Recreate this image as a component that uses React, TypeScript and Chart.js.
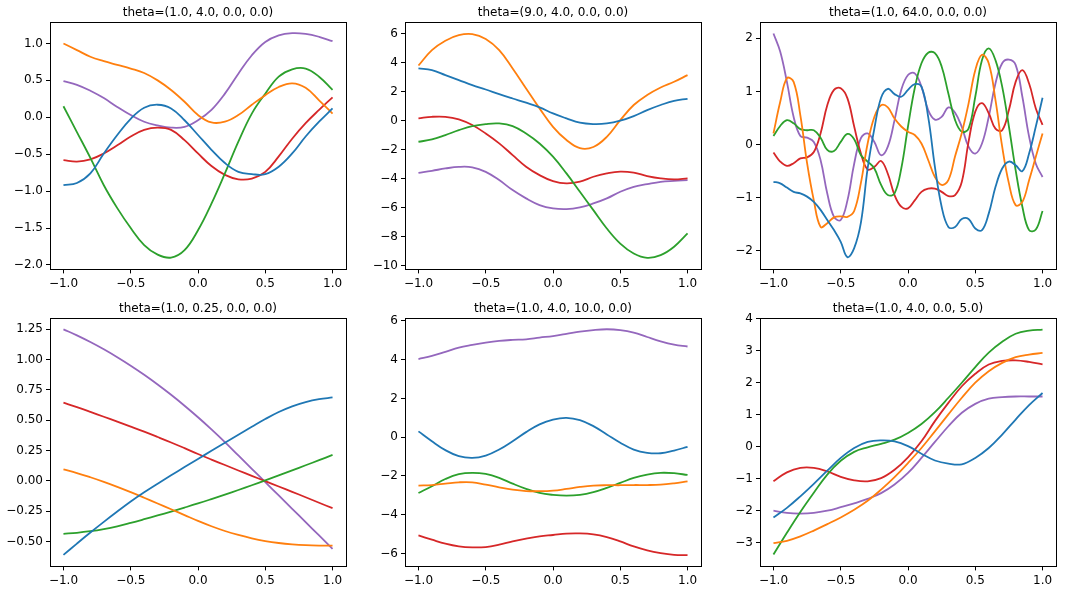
import React, { useEffect, useRef } from 'react';
import { Chart, registerables } from 'chart.js';

Chart.register(...registerables);

// ---------- data ----------
const COLORS = ['#1f77b4', '#ff7f0e', '#2ca02c', '#d62728', '#9467bd'];

const X_COARSE = [-1.0, -0.9, -0.8, -0.7, -0.6, -0.5, -0.4, -0.3, -0.2, -0.1, 0.0, 0.1, 0.2, 0.3, 0.4, 0.5, 0.6, 0.7, 0.8, 0.9, 1.0];
const X_FINE = [
  -1.0, -0.95, -0.9, -0.85, -0.8, -0.75, -0.7, -0.65, -0.6, -0.55, -0.5, -0.45, -0.4, -0.35, -0.3, -0.25, -0.2, -0.15, -0.1, -0.05,
  0.0, 0.05, 0.1, 0.15, 0.2, 0.25, 0.3, 0.35, 0.4, 0.45, 0.5, 0.55, 0.6, 0.65, 0.7, 0.75, 0.8, 0.85, 0.9, 0.95, 1.0,
];
const X_TICKS = [-1.0, -0.5, 0.0, 0.5, 1.0];

// theta=(1.0, 4.0, 0.0, 0.0)
const P1_BLUE = [-0.92, -0.89, -0.76, -0.49, -0.24, -0.02, 0.13, 0.17, 0.12, -0.04, -0.24, -0.44, -0.62, -0.74, -0.77, -0.77, -0.67, -0.49, -0.26, -0.06, 0.12];
const P1_ORANGE = [1.0, 0.91, 0.82, 0.76, 0.71, 0.66, 0.6, 0.5, 0.37, 0.21, 0.03, -0.07, -0.06, 0.03, 0.17, 0.3, 0.41, 0.46, 0.4, 0.23, 0.05];
const P1_GREEN = [0.15, -0.2, -0.55, -0.92, -1.23, -1.5, -1.73, -1.86, -1.9, -1.8, -1.53, -1.17, -0.76, -0.33, 0.05, 0.32, 0.55, 0.65, 0.66, 0.55, 0.37];
const P1_RED = [-0.58, -0.6, -0.57, -0.49, -0.38, -0.26, -0.17, -0.14, -0.17, -0.31, -0.49, -0.66, -0.78, -0.84, -0.83, -0.74, -0.53, -0.29, -0.08, 0.1, 0.27];
const P1_PURPLE = [0.49, 0.44, 0.36, 0.26, 0.14, 0.03, -0.06, -0.11, -0.14, -0.13, -0.04, 0.1, 0.32, 0.59, 0.84, 1.02, 1.11, 1.14, 1.13, 1.09, 1.03];
const P1_Y_TICKS = [-2.0, -1.5, -1.0, -0.5, 0.0, 0.5, 1.0];

// theta=(9.0, 4.0, 0.0, 0.0)
const P2_BLUE = [3.59, 3.47, 3.13, 2.79, 2.44, 2.14, 1.82, 1.52, 1.23, 0.91, 0.49, 0.15, -0.15, -0.24, -0.2, -0.01, 0.31, 0.72, 1.07, 1.36, 1.5];
const P2_ORANGE = [3.79, 4.85, 5.5, 5.88, 5.95, 5.62, 4.85, 3.59, 2.21, 0.84, -0.43, -1.34, -1.9, -1.82, -1.12, 0.03, 1.07, 1.76, 2.28, 2.67, 3.13];
const P2_GREEN = [-1.46, -1.3, -1.0, -0.66, -0.38, -0.24, -0.2, -0.38, -0.89, -1.58, -2.49, -3.64, -4.9, -6.17, -7.43, -8.47, -9.15, -9.45, -9.27, -8.69, -7.77];
const P2_RED = [0.15, 0.26, 0.26, 0.08, -0.31, -0.89, -1.57, -2.38, -3.18, -3.76, -4.17, -4.33, -4.21, -3.87, -3.64, -3.52, -3.59, -3.82, -3.98, -4.05, -3.98];
const P2_PURPLE = [-3.6, -3.46, -3.3, -3.19, -3.22, -3.53, -4.1, -4.79, -5.36, -5.82, -6.05, -6.1, -5.98, -5.71, -5.36, -4.9, -4.56, -4.38, -4.22, -4.15, -4.1];
const P2_Y_TICKS = [-10, -8, -6, -4, -2, 0, 2, 4, 6];

// theta=(1.0, 64.0, 0.0, 0.0)
const P3_BLUE = [
  -0.7, -0.73, -0.81, -0.89, -0.92, -0.98, -1.08, -1.23, -1.42, -1.61, -1.83, -2.12, -1.95, -1.47, -0.45, 0.3, 0.88, 1.05, 0.95, 0.9,
  1.03, 1.14, 1.09, 0.52, -0.42, -1.17, -1.55, -1.55, -1.4, -1.4, -1.58, -1.61, -1.3, -0.8, -0.45, -0.32, -0.39, -0.5, -0.17, 0.34, 0.88,
];
const P3_ORANGE = [
  0.21, 0.8, 1.25, 1.18, 0.55, -0.35, -1.05, -1.55, -1.48, -1.37, -1.35, -1.36, -1.25, -0.72, 0.02, 0.52, 0.74, 0.7, 0.49, 0.34,
  0.24, 0.18, 0.02, -0.29, -0.61, -0.76, -0.67, -0.22, 0.22, 0.77, 1.4, 1.69, 1.53, 0.84, -0.04, -0.73, -1.14, -1.08, -0.67, -0.23, 0.21,
];
const P3_GREEN = [
  0.16, 0.35, 0.46, 0.4, 0.29, 0.27, 0.27, 0.13, -0.1, -0.12, 0.05, 0.2, 0.1, -0.2, -0.32, -0.45, -0.76, -0.95, -0.92, -0.45,
  0.34, 1.06, 1.53, 1.73, 1.72, 1.47, 0.96, 0.46, 0.24, 0.3, 0.9, 1.59, 1.81, 1.59, 1.09, 0.34, -0.48, -1.17, -1.61, -1.6, -1.25,
];
const P3_RED = [
  -0.15, -0.32, -0.4, -0.35, -0.26, -0.24, -0.14, 0.21, 0.74, 1.03, 1.06, 0.87, 0.34, -0.17, -0.47, -0.42, -0.31, -0.55, -0.95, -1.17,
  -1.2, -1.05, -0.89, -0.83, -0.83, -0.89, -0.97, -0.95, -0.7, 0.05, 0.62, 0.78, 0.59, 0.3, 0.27, 0.65, 1.18, 1.4, 1.15, 0.68, 0.37,
];
const P3_PURPLE = [
  2.09, 1.75, 1.18, 0.52, 0.16, 0.13, 0.05, -0.29, -0.92, -1.36, -1.42, -1.05, -0.36, 0.12, 0.21, 0.05, -0.2, -0.04, 0.46, 1.03,
  1.31, 1.34, 1.09, 0.65, 0.47, 0.52, 0.7, 0.6, 0.33, -0.04, -0.17, 0.02, 0.52, 1.15, 1.53, 1.6, 1.5, 0.9, 0.15, -0.36, -0.61,
];
const P3_Y_TICKS = [-2, -1, 0, 1, 2];

// theta=(1.0, 0.25, 0.0, 0.0)
const P4_BLUE = [-0.61, -0.517, -0.426, -0.338, -0.253, -0.17, -0.094, -0.023, 0.046, 0.114, 0.181, 0.248, 0.315, 0.381, 0.446, 0.51, 0.568, 0.615, 0.65, 0.674, 0.688];
const P4_ORANGE = [0.095, 0.065, 0.03, -0.008, -0.049, -0.093, -0.139, -0.186, -0.234, -0.282, -0.33, -0.374, -0.413, -0.446, -0.474, -0.496, -0.512, -0.523, -0.53, -0.533, -0.533];
const P4_GREEN = [-0.436, -0.428, -0.415, -0.397, -0.374, -0.346, -0.316, -0.285, -0.253, -0.22, -0.186, -0.15, -0.113, -0.075, -0.036, 0.004, 0.045, 0.087, 0.129, 0.171, 0.214];
const P4_RED = [0.645, 0.608, 0.569, 0.529, 0.489, 0.448, 0.406, 0.362, 0.317, 0.27, 0.222, 0.176, 0.131, 0.086, 0.042, -0.002, -0.046, -0.09, -0.135, -0.18, -0.225];
const P4_PURPLE = [1.25, 1.2, 1.145, 1.085, 1.02, 0.95, 0.875, 0.795, 0.71, 0.62, 0.525, 0.425, 0.32, 0.21, 0.1, -0.01, -0.12, -0.23, -0.34, -0.45, -0.56];
const P4_Y_TICKS = [-0.5, -0.25, 0.0, 0.25, 0.5, 0.75, 1.0, 1.25];

// theta=(1.0, 4.0, 10.0, 0.0)
const P5_BLUE = [0.3, -0.21, -0.67, -0.98, -1.07, -0.95, -0.64, -0.21, 0.26, 0.66, 0.91, 1.0, 0.88, 0.57, 0.14, -0.29, -0.64, -0.81, -0.83, -0.69, -0.5];
const P5_ORANGE = [-2.5, -2.47, -2.4, -2.33, -2.33, -2.45, -2.59, -2.71, -2.78, -2.79, -2.76, -2.67, -2.57, -2.5, -2.48, -2.48, -2.47, -2.47, -2.45, -2.38, -2.28];
const P5_GREEN = [-2.88, -2.53, -2.16, -1.91, -1.84, -1.9, -2.1, -2.4, -2.67, -2.88, -2.98, -3.02, -2.98, -2.84, -2.62, -2.36, -2.1, -1.93, -1.84, -1.86, -1.95];
const P5_RED = [-5.07, -5.29, -5.5, -5.64, -5.69, -5.67, -5.55, -5.38, -5.24, -5.12, -5.05, -4.98, -4.97, -5.02, -5.16, -5.38, -5.64, -5.84, -5.98, -6.07, -6.09];
const P5_PURPLE = [4.03, 4.19, 4.4, 4.62, 4.76, 4.88, 4.97, 5.02, 5.05, 5.14, 5.22, 5.33, 5.45, 5.53, 5.57, 5.53, 5.4, 5.17, 4.95, 4.78, 4.68];
const P5_Y_TICKS = [-6, -4, -2, 0, 2, 4, 6];

// theta=(1.0, 4.0, 0.0, 5.0)
const P6_BLUE = [-2.22, -1.92, -1.56, -1.17, -0.76, -0.36, -0.05, 0.14, 0.19, 0.16, 0.01, -0.23, -0.44, -0.54, -0.56, -0.36, -0.05, 0.37, 0.84, 1.29, 1.67];
const P6_ORANGE = [-3.02, -2.95, -2.81, -2.63, -2.43, -2.22, -1.98, -1.7, -1.35, -0.96, -0.52, -0.05, 0.47, 1.0, 1.52, 1.99, 2.35, 2.61, 2.79, 2.87, 2.92];
const P6_GREEN = [-3.38, -2.7, -2.05, -1.45, -0.88, -0.45, -0.17, -0.03, 0.08, 0.21, 0.42, 0.7, 1.07, 1.52, 1.99, 2.48, 2.93, 3.27, 3.52, 3.62, 3.65];
const P6_RED = [-1.09, -0.81, -0.67, -0.67, -0.78, -0.95, -1.06, -1.09, -0.99, -0.73, -0.34, 0.16, 0.79, 1.36, 1.88, 2.27, 2.56, 2.67, 2.69, 2.64, 2.56];
const P6_PURPLE = [-2.01, -2.08, -2.1, -2.08, -2.01, -1.9, -1.78, -1.64, -1.46, -1.19, -0.83, -0.36, 0.14, 0.63, 1.05, 1.33, 1.49, 1.54, 1.56, 1.56, 1.56];
const P6_Y_TICKS = [-3, -2, -1, 0, 1, 2, 3, 4];

// ---------- layout ----------
const FONT = { family: '"DejaVu Sans", sans-serif', size: 12, weight: 'normal' as const };
const CANVAS_W = 355;

type PanelCfg = {
  title: string;
  xs: number[];
  series: number[][];
  yMin: number;
  yMax: number;
  yTicks: number[];
  yDecimals: number;
  left: number;
  top: number;
  height: number;
};

const PANELS: PanelCfg[] = [
  { title: 'theta=(1.0, 4.0, 0.0, 0.0)', xs: X_COARSE, series: [P1_BLUE, P1_ORANGE, P1_GREEN, P1_RED, P1_PURPLE], yMin: -2.06, yMax: 1.285, yTicks: P1_Y_TICKS, yDecimals: 1, left: 0, top: 0, height: 296 },
  { title: 'theta=(9.0, 4.0, 0.0, 0.0)', xs: X_COARSE, series: [P2_BLUE, P2_ORANGE, P2_GREEN, P2_RED, P2_PURPLE], yMin: -10.25, yMax: 6.76, yTicks: P2_Y_TICKS, yDecimals: 0, left: 355, top: 0, height: 296 },
  { title: 'theta=(1.0, 64.0, 0.0, 0.0)', xs: X_FINE, series: [P3_BLUE, P3_ORANGE, P3_GREEN, P3_RED, P3_PURPLE], yMin: -2.35, yMax: 2.3, yTicks: P3_Y_TICKS, yDecimals: 0, left: 710, top: 0, height: 296 },
  { title: 'theta=(1.0, 0.25, 0.0, 0.0)', xs: X_COARSE, series: [P4_BLUE, P4_ORANGE, P4_GREEN, P4_RED, P4_PURPLE], yMin: -0.705, yMax: 1.34, yTicks: P4_Y_TICKS, yDecimals: 2, left: 0, top: 296, height: 297 },
  { title: 'theta=(1.0, 4.0, 10.0, 0.0)', xs: X_COARSE, series: [P5_BLUE, P5_ORANGE, P5_GREEN, P5_RED, P5_PURPLE], yMin: -6.67, yMax: 6.13, yTicks: P5_Y_TICKS, yDecimals: 0, left: 355, top: 296, height: 297 },
  { title: 'theta=(1.0, 4.0, 0.0, 5.0)', xs: X_COARSE, series: [P6_BLUE, P6_ORANGE, P6_GREEN, P6_RED, P6_PURPLE], yMin: -3.75, yMax: 4.0, yTicks: P6_Y_TICKS, yDecimals: 0, left: 710, top: 296, height: 297 },
];

function fmt(v: number, d: number): string {
  const s = Math.abs(v).toFixed(d);
  return (v < 0 && Number(s) !== 0 ? '\u2212' : '') + s;
}

const framePlugin = {
  id: 'frame',
  afterDraw(chart: any) {
    const { ctx, chartArea } = chart;
    ctx.save();
    ctx.strokeStyle = '#000';
    ctx.lineWidth = 1;
    const l = Math.round(chartArea.left) + 0.5;
    const t = Math.round(chartArea.top) + 0.5;
    const r = Math.round(chartArea.right) + 0.5;
    const b = Math.round(chartArea.bottom) + 0.5;
    ctx.strokeRect(l, t, r - l, b - t);
    ctx.restore();
  },
};

function Panel({ cfg }: { cfg: PanelCfg }) {
  const ref = useRef<HTMLCanvasElement | null>(null);
  useEffect(() => {
    if (!ref.current) return;
    const chart = new Chart(ref.current, {
      type: 'line',
      data: {
        datasets: cfg.series.map((ys, i) => ({
          data: cfg.xs.map((x, j) => ({ x, y: ys[j] })),
          borderColor: COLORS[i],
          backgroundColor: COLORS[i],
          borderWidth: 1.8,
          pointRadius: 0,
          pointHoverRadius: 0,
          tension: 0.4,
          fill: false,
        })),
      },
      options: {
        animation: false,
        responsive: false,
        maintainAspectRatio: false,
        events: [],
        layout: { padding: { top: 0, right: 9, left: 0, bottom: 0 } },
        plugins: {
          legend: { display: false },
          tooltip: { enabled: false },
          title: {
            display: true,
            text: cfg.title,
            fullSize: false,
            color: '#000',
            font: FONT,
            padding: { top: 6, bottom: 2 },
          },
        },
        scales: {
          x: {
            type: 'linear',
            min: -1.1,
            max: 1.1,
            afterBuildTicks: (s: any) => {
              s.ticks = X_TICKS.map((v) => ({ value: v }));
            },
            afterFit: (s: any) => {
              s.height = 26.6;
            },
            grid: { drawOnChartArea: false, drawTicks: true, tickLength: 4, color: '#000', lineWidth: 1 },
            border: { display: true, color: '#000', width: 1 },
            ticks: {
              color: '#000',
              font: FONT,
              padding: 3,
              autoSkip: false,
              maxRotation: 0,
              minRotation: 0,
              callback: (v: any) => fmt(Number(v), 1),
            },
          },
          y: {
            type: 'linear',
            min: cfg.yMin,
            max: cfg.yMax,
            afterBuildTicks: (s: any) => {
              s.ticks = cfg.yTicks.map((v) => ({ value: v }));
            },
            afterFit: (s: any) => {
              s.width = 50;
            },
            grid: { drawOnChartArea: false, drawTicks: true, tickLength: 4, color: '#000', lineWidth: 1 },
            border: { display: true, color: '#000', width: 1 },
            ticks: {
              color: '#000',
              font: FONT,
              padding: 3,
              autoSkip: false,
              callback: (v: any) => fmt(Number(v), cfg.yDecimals),
            },
          },
        },
      },
      plugins: [framePlugin],
    } as any);
    return () => chart.destroy();
  }, [cfg]);
  return (
    <canvas
      ref={ref}
      width={CANVAS_W}
      height={cfg.height}
      style={{ position: 'absolute', left: cfg.left, top: cfg.top, width: CANVAS_W, height: cfg.height, display: 'block' }}
    />
  );
}

export default function App() {
  return (
    <div style={{ position: 'absolute', left: 0, top: 0, width: 1065, height: 593, background: '#fff', overflow: 'hidden' }}>
      {PANELS.map((p, i) => (
        <Panel key={i} cfg={p} />
      ))}
    </div>
  );
}
